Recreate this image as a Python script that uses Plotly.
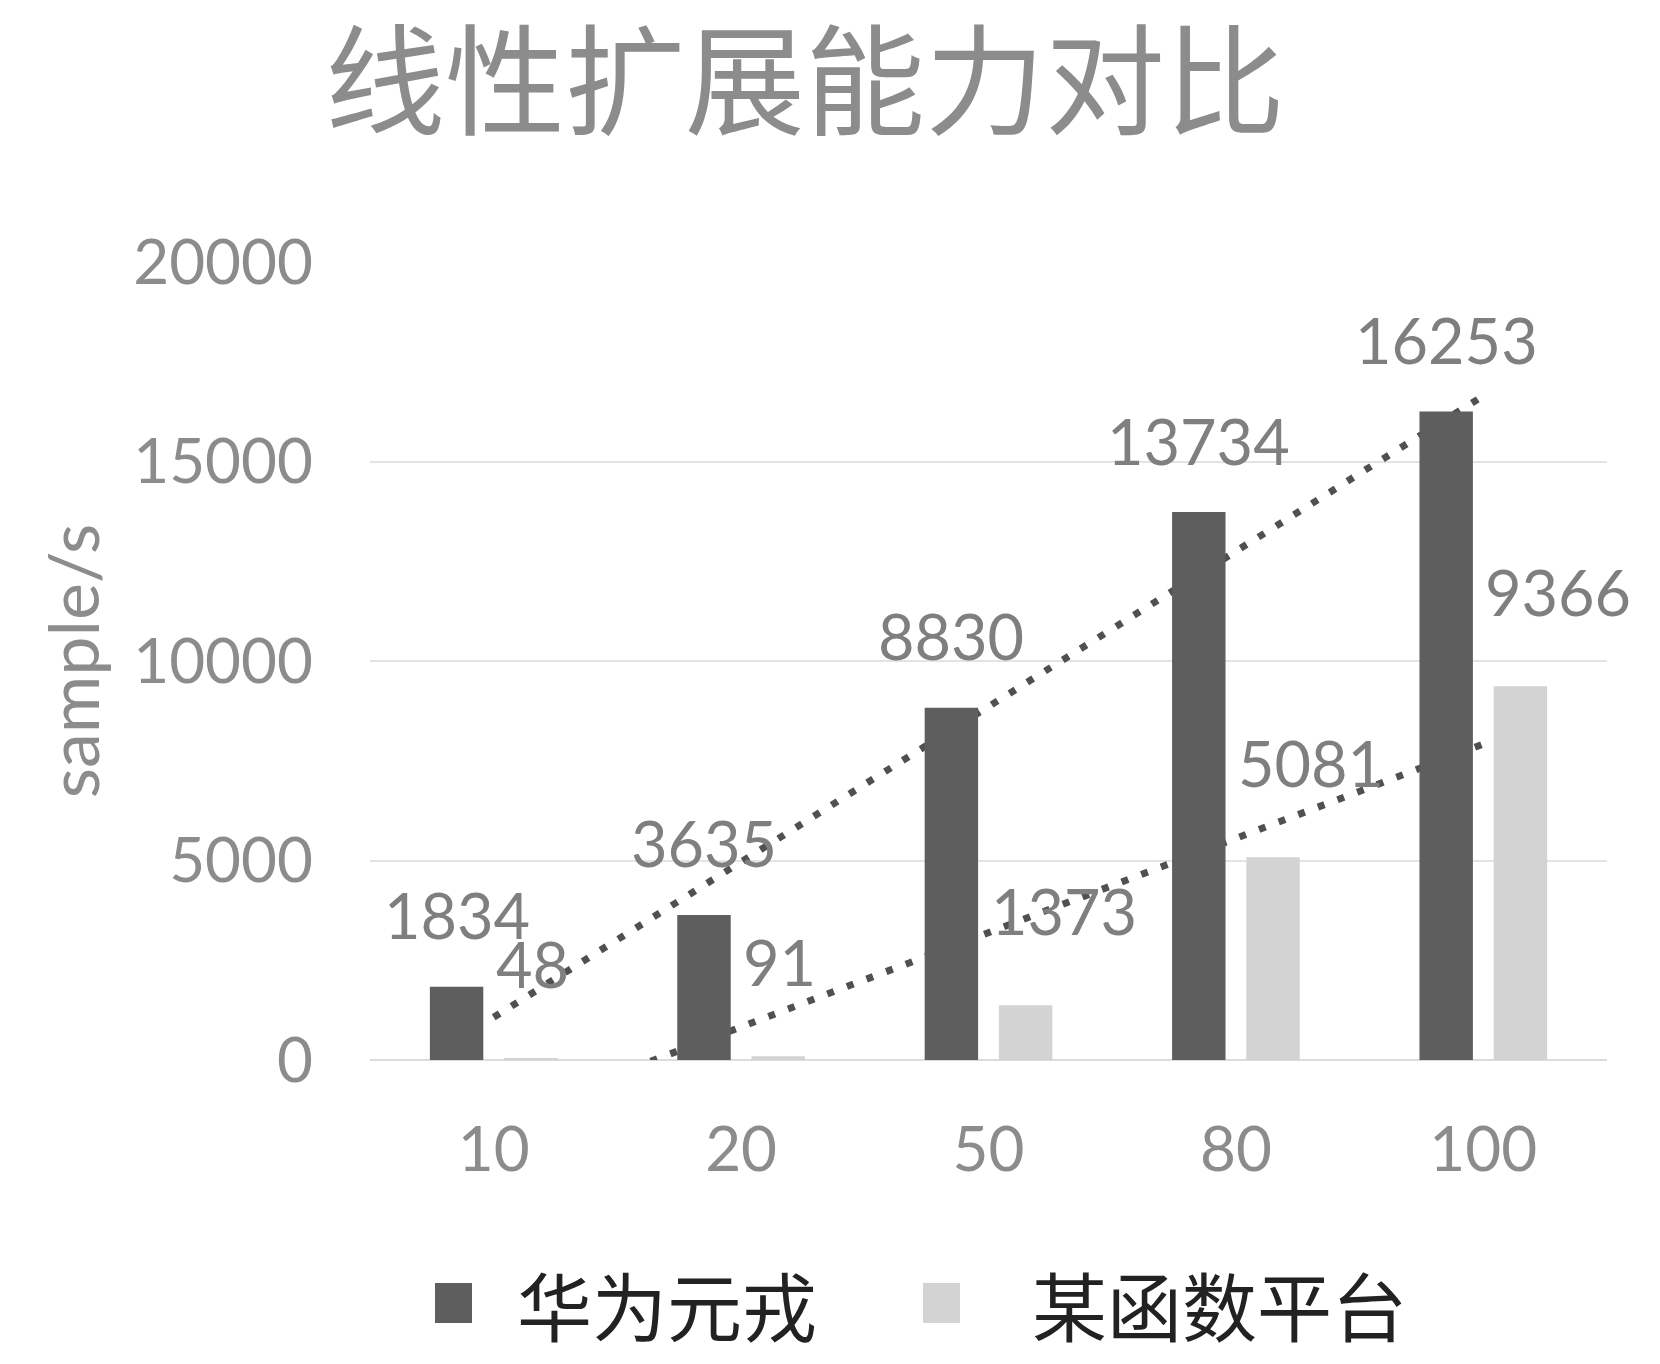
import numpy as np
import plotly.graph_objects as go

# ---- data ----
categories = ["10", "20", "50", "80", "100"]
series_names = ["华为元戎", "某函数平台"]
huawei_values = [1834, 3635, 8830, 13734, 16253]
other_values = [48, 91, 1373, 5081, 9366]
y_ticks = [0, 5000, 10000, 15000, 20000]
title_text = "线性扩展能力对比"
y_title = "sample/s"

# ---- styles ----
OFF = 8  # default page body margin
W, H = 1660 - OFF, 1364 - OFF
ML = 370 - OFF
MT = 262 - OFF
MR = (1660 - 1607)
MB = (1364 - 1060)
DARK = "#5e5e5e"
LIGHT = "#d3d3d3"
TEXT_GRAY = "#8c8c8c"
LABEL_GRAY = "#7f7f7f"
NUM_FONT = "Lato, 'Noto Sans', sans-serif"
CJK_FONT = "'Noto Sans CJK SC', sans-serif"

idx = np.arange(len(categories))

def trend(vals):
    slope, intercept = np.polyfit(idx + 1, np.array(vals, dtype=float), 1)
    return slope * (idx + 1) + intercept

fig = go.Figure()

# linear trendlines (behind bars)
for vals in (huawei_values, other_values):
    fig.add_trace(go.Scatter(
        x=categories, y=trend(vals), mode="lines",
        line=dict(color="#505050", width=7, dash="7px,14px"),
        showlegend=False, hoverinfo="skip", zorder=0))

fig.add_trace(go.Bar(x=categories, y=huawei_values, name=series_names[0],
                     marker=dict(color=DARK, line=dict(width=0)),
                     showlegend=False, zorder=1))
fig.add_trace(go.Bar(x=categories, y=other_values, name=series_names[1],
                     marker=dict(color=LIGHT, line=dict(width=0)),
                     showlegend=False, zorder=1))

annotations = []
offset = 0.15
for i, v in enumerate(huawei_values):
    annotations.append(dict(x=i - offset, y=v, xref="x", yref="y", text=str(v),
                            showarrow=False, yshift=72, xanchor="center", yanchor="middle",
                            font=dict(family=NUM_FONT, size=63, color=LABEL_GRAY)))
for i, v in enumerate(other_values):
    annotations.append(dict(x=i, y=v, xref="x", yref="y", text=str(v),
                            showarrow=False, yshift=95, xanchor="left", yanchor="middle",
                            font=dict(family=NUM_FONT, size=63, color=LABEL_GRAY)))

# custom legend (large swatches)
plot_w = W - ML - MR
plot_h = H - MT - MB
def px_x(p):
    return (p - OFF - ML) / plot_w
def px_y(p):
    return (H - MB - (p - OFF)) / plot_h

shapes = []
legend_items = [(series_names[0], DARK, 435, 518), (series_names[1], LIGHT, 923, 1033)]
for name, col, sx, tx in legend_items:
    shapes.append(dict(type="rect", xref="paper", yref="paper",
                       x0=px_x(sx), x1=px_x(sx + 37), y0=px_y(1323), y1=px_y(1283),
                       fillcolor=col, line=dict(width=0)))
    annotations.append(dict(x=px_x(tx - 3), y=px_y(1303), xref="paper", yref="paper",
                            text=name, showarrow=False, xanchor="left", yanchor="middle",
                            font=dict(family=CJK_FONT, size=75, color="#222222")))

fig.update_layout(
    width=W, height=H,
    margin=dict(l=ML, r=MR, t=MT, b=MB, autoexpand=False),
    paper_bgcolor="white", plot_bgcolor="white",
    title=dict(text=title_text, x=(805 - OFF) / W, xanchor="center", xref="container",
               y=1 - (84 - OFF) / H, yref="container", yanchor="middle",
               font=dict(family=CJK_FONT, size=120, color=TEXT_GRAY)),
    barmode="group", bargap=0.4, bargroupgap=0.28,
    annotations=annotations, shapes=shapes,
    showlegend=False,
)
fig.update_xaxes(type="category", range=[-0.5, len(categories) - 0.5],
                 showgrid=False, zeroline=False, showline=False,
                 ticks="", ticklabelstandoff=48,
                 tickfont=dict(family=NUM_FONT, size=62, color=TEXT_GRAY))
fig.update_yaxes(range=[0, 20000], tickvals=y_ticks, tickformat="d", showgrid=True,
                 gridcolor="#e3e3e3", gridwidth=2, zeroline=True,
                 zerolinecolor="#dcdcdc", zerolinewidth=2, showline=False,
                 ticks="", ticklabelstandoff=56,
                 tickfont=dict(family=NUM_FONT, size=62, color=TEXT_GRAY),
                 title=dict(text=y_title, standoff=10,
                            font=dict(family=NUM_FONT, size=70, color=TEXT_GRAY)))

fig.write_html("out.html")
